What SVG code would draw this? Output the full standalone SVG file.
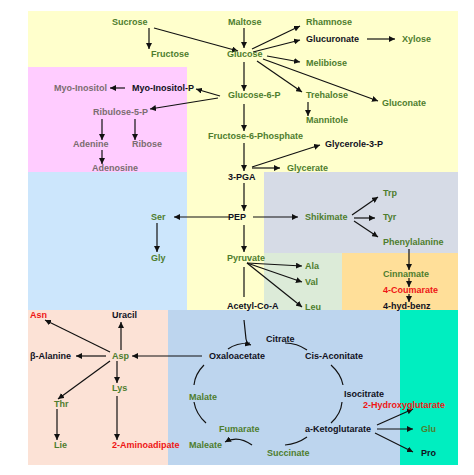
<svg xmlns="http://www.w3.org/2000/svg" width="474" height="475" viewBox="0 0 474 475">
<defs>
<marker id="ah" markerUnits="userSpaceOnUse" markerWidth="7" markerHeight="6" refX="6" refY="3" orient="auto">
<path d="M0,0 L6,3 L0,6 z" fill="#111"/>
</marker>
<style>
text{font-family:"Liberation Sans",Arial,sans-serif;font-size:9px;font-weight:bold}
.g{fill:#4e7d2e}
.k{fill:#111122}
.r{fill:#ee1515}
.p{fill:#7a6c70}
.c path{fill:none;stroke:#111;stroke-width:1.2}
.c .a{marker-end:url(#ah)}
</style>
</defs>
<rect width="474" height="475" fill="#fff"/>
<g id="regions">
<rect x="28" y="11" width="430" height="299" fill="#ffffcc"/>
<rect x="28" y="67" width="159" height="105" fill="#ffccff"/>
<rect x="28" y="172" width="159" height="138" fill="#cce6fc"/>
<rect x="264" y="172" width="194" height="81" fill="#d6dbe6"/>
<rect x="264" y="253" width="78" height="57" fill="#dcebd8"/>
<rect x="342" y="253" width="116" height="57" fill="#ffdf99"/>
<rect x="28" y="310" width="140" height="155" fill="#fce2d6"/>
<rect x="168" y="310" width="232" height="155" fill="#bdd5ee"/>
<rect x="400" y="310" width="58" height="155" fill="#00eec0"/>
</g>
<g id="connectors" class="c">
<path class="a" d="M149,28 V49"/>
<path class="a" d="M154,28 L238,51"/>
<path class="a" d="M244,28 V48"/>
<path class="a" d="M252,49 L300,26"/>
<path class="a" d="M253,52 L300,40"/>
<path class="a" d="M367,39 H395"/>
<path class="a" d="M267,56 L300,62"/>
<path class="a" d="M257,61 L302,92"/>
<path class="a" d="M308,102 V116"/>
<path class="a" d="M263,59 L378,101"/>
<path class="a" d="M244,62 V91"/>
<path class="a" d="M220,96 L196,89"/>
<path class="a" d="M218,98 L150,109"/>
<path class="a" d="M125,88 H110"/>
<path class="a" d="M102,119 V140"/>
<path class="a" d="M135,119 V140"/>
<path class="a" d="M102,150 V164"/>
<path class="a" d="M244,104 V131"/>
<path class="a" d="M244,143 V171"/>
<path class="a" d="M252,167 L320,145"/>
<path class="a" d="M252,168 H280"/>
<path class="a" d="M244,183 V211"/>
<path class="a" d="M253,217 H298"/>
<path class="a" d="M230,217 H174"/>
<path class="a" d="M157,223 V252"/>
<path class="a" d="M352,215 L378,197"/>
<path class="a" d="M354,218 H375"/>
<path class="a" d="M354,221 L378,237"/>
<path class="a" d="M409,249 V270"/>
<path class="a" d="M409,278 V287"/>
<path class="a" d="M409,294 V302"/>
<path class="a" d="M244,225 V252"/>
<path class="a" d="M247,263 L302,266"/>
<path class="a" d="M247,263 L302,282"/>
<path class="a" d="M247,263 L302,307"/>
<path d="M244,267 V297"/>
<path class="a" d="M244,320 L246,339 Q247,344 251,345"/>
<path class="a" d="M202,356 H132"/>
<path class="a" d="M121,350 V322"/>
<path class="a" d="M110,352 L45,320"/>
<path class="a" d="M106,356 H76"/>
<path class="a" d="M117,361 V383"/>
<path class="a" d="M110,361 L58,399"/>
<path class="a" d="M57,409 V440"/>
<path class="a" d="M117,396 V440"/>
<path class="a" d="M377,425 L413,409"/>
<path class="a" d="M377,429 H413"/>
<path class="a" d="M375,433 L413,452"/>
<path class="a" d="M252,445 Q238,435 225,442"/>
<path d="M228,349 Q236,343 250,343"/>
<path d="M285,343 Q297,343 307,350"/>
<path d="M331,365 Q341,374 343,385"/>
<path d="M342,402 Q341,414 331,423"/>
<path d="M307,437 Q297,444 285,445"/>
<path d="M206,423 Q196,414 194,402"/>
<path d="M194,385 Q195,374 204,365"/>
</g>
<g id="n-sucrose"><text class="g" x="112" y="25">Sucrose</text></g>
<g id="n-fructose"><text class="g" x="151" y="57">Fructose</text></g>
<g id="n-maltose"><text class="g" x="228" y="25">Maltose</text></g>
<g id="n-glucose"><text class="g" x="227" y="57">Glucose</text></g>
<g id="n-rhamnose"><text class="g" x="306" y="25">Rhamnose</text></g>
<g id="n-glucuronate"><text class="k" x="306" y="42">Glucuronate</text></g>
<g id="n-xylose"><text class="g" x="402" y="42">Xylose</text></g>
<g id="n-melibiose"><text class="g" x="306" y="66">Melibiose</text></g>
<g id="n-trehalose"><text class="g" x="306" y="98">Trehalose</text></g>
<g id="n-mannitole"><text class="g" x="306" y="123">Mannitole</text></g>
<g id="n-gluconate"><text class="g" x="382" y="106">Gluconate</text></g>
<g id="n-myo-inositol"><text class="p" x="54" y="91">Myo-Inositol</text></g>
<g id="n-myo-inositol-p"><text class="k" x="132" y="91">Myo-Inositol-P</text></g>
<g id="n-glucose-6-p"><text class="g" x="228" y="98">Glucose-6-P</text></g>
<g id="n-ribulose-5-p"><text class="p" x="93" y="115">Ribulose-5-P</text></g>
<g id="n-adenine"><text class="p" x="73" y="147">Adenine</text></g>
<g id="n-ribose"><text class="p" x="132" y="147">Ribose</text></g>
<g id="n-adenosine"><text class="p" x="92" y="171">Adenosine</text></g>
<g id="n-fructose-6-phosphate"><text class="g" x="208" y="139">Fructose-6-Phosphate</text></g>
<g id="n-glycerole-3-p"><text class="k" x="325" y="147">Glycerole-3-P</text></g>
<g id="n-3-pga"><text class="k" x="228" y="180">3-PGA</text></g>
<g id="n-glycerate"><text class="g" x="287" y="171">Glycerate</text></g>
<g id="n-pep"><text class="k" x="228" y="220">PEP</text></g>
<g id="n-ser"><text class="g" x="151" y="220">Ser</text></g>
<g id="n-gly"><text class="g" x="151" y="261">Gly</text></g>
<g id="n-shikimate"><text class="g" x="305" y="220">Shikimate</text></g>
<g id="n-trp"><text class="g" x="383" y="196">Trp</text></g>
<g id="n-tyr"><text class="g" x="383" y="220">Tyr</text></g>
<g id="n-phenylalanine"><text class="g" x="383" y="245">Phenylalanine</text></g>
<g id="n-cinnamate"><text class="g" x="383" y="277">Cinnamate</text></g>
<g id="n-4-coumarate"><text class="r" x="383" y="293">4-Coumarate</text></g>
<g id="n-4-hyd-benz"><text class="k" x="383" y="309">4-hyd-benz</text></g>
<g id="n-pyruvate"><text class="g" x="227" y="261">Pyruvate</text></g>
<g id="n-ala"><text class="g" x="305" y="269">Ala</text></g>
<g id="n-val"><text class="g" x="305" y="285">Val</text></g>
<g id="n-leu"><text class="g" x="305" y="310">Leu</text></g>
<g id="n-acetyl-co-a"><text class="k" x="227" y="309">Acetyl-Co-A</text></g>
<g id="n-asn"><text class="r" x="30" y="318">Asn</text></g>
<g id="n-uracil"><text class="k" x="112" y="318">Uracil</text></g>
<g id="n-b-alanine"><text class="k" x="30" y="359">β-Alanine</text></g>
<g id="n-asp"><text class="g" x="112" y="359">Asp</text></g>
<g id="n-lys"><text class="g" x="112" y="391">Lys</text></g>
<g id="n-thr"><text class="g" x="54" y="407">Thr</text></g>
<g id="n-lie"><text class="g" x="54" y="448">Lie</text></g>
<g id="n-2-aminoadipate"><text class="r" x="112" y="448">2-Aminoadipate</text></g>
<g id="n-oxaloacetate"><text class="k" x="209" y="359">Oxaloacetate</text></g>
<g id="n-citrate"><text class="k" x="266" y="342">Citrate</text></g>
<g id="n-cis-aconitate"><text class="k" x="305" y="359">Cis-Aconitate</text></g>
<g id="n-isocitrate"><text class="k" x="344" y="397">Isocitrate</text></g>
<g id="n-2-hydroxyglutarate"><text class="r" x="363" y="408">2-Hydroxyglutarate</text></g>
<g id="n-a-ketoglutarate"><text class="k" x="305" y="432">a-Ketoglutarate</text></g>
<g id="n-glu"><text class="g" x="421" y="432">Glu</text></g>
<g id="n-pro"><text class="k" x="421" y="456">Pro</text></g>
<g id="n-succinate"><text class="g" x="267" y="456">Succinate</text></g>
<g id="n-fumarate"><text class="g" x="219" y="432">Fumarate</text></g>
<g id="n-malate"><text class="g" x="189" y="400">Malate</text></g>
<g id="n-maleate"><text class="g" x="189" y="448">Maleate</text></g>
</svg>
